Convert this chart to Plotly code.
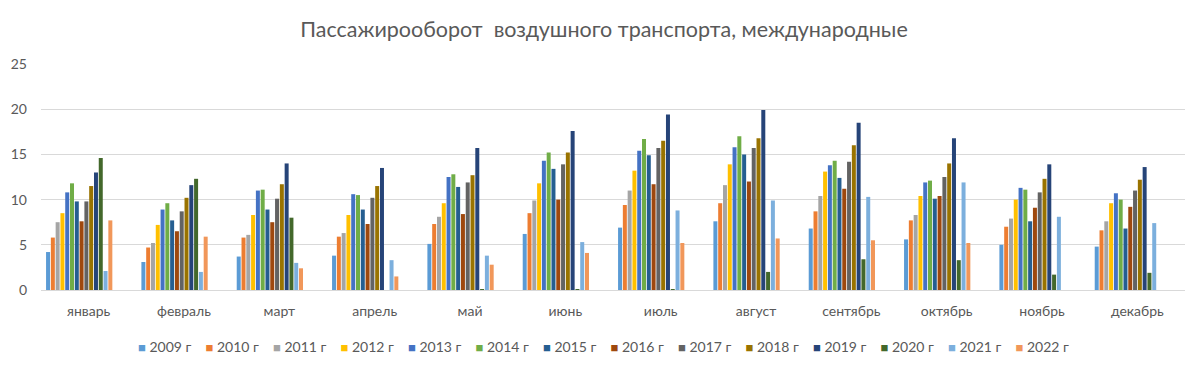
import plotly.graph_objects as go

months = ["январь", "февраль", "март", "апрель", "май", "июнь", "июль",
          "август", "сентябрь", "октябрь", "ноябрь", "декабрь"]

years = ["2009 г", "2010 г", "2011 г", "2012 г", "2013 г", "2014 г", "2015 г",
         "2016 г", "2017 г", "2018 г", "2019 г", "2020 г", "2021 г", "2022 г"]

y2009 = [4.2, 3.1, 3.7, 3.8, 5.1, 6.2, 6.9, 7.6, 6.8, 5.6, 5.0, 4.8]
y2010 = [5.8, 4.7, 5.8, 5.9, 7.3, 8.5, 9.4, 9.6, 8.7, 7.7, 7.0, 6.6]
y2011 = [7.5, 5.2, 6.1, 6.3, 8.1, 9.9, 11.0, 11.6, 10.4, 8.3, 7.9, 7.6]
y2012 = [8.5, 7.2, 8.3, 8.3, 9.6, 11.8, 13.2, 13.9, 13.1, 10.4, 10.0, 9.6]
y2013 = [10.8, 8.9, 11.0, 10.6, 12.5, 14.3, 15.4, 15.8, 13.8, 11.9, 11.3, 10.7]
y2014 = [11.8, 9.6, 11.1, 10.5, 12.8, 15.2, 16.7, 17.0, 14.3, 12.1, 11.1, 10.0]
y2015 = [9.8, 7.7, 8.9, 8.9, 11.4, 13.4, 14.9, 15.0, 12.4, 10.1, 7.6, 6.8]
y2016 = [7.6, 6.5, 7.5, 7.3, 8.4, 10.0, 11.7, 12.0, 11.2, 10.4, 9.1, 9.2]
y2017 = [9.8, 8.7, 10.1, 10.2, 11.9, 13.9, 15.7, 15.7, 14.2, 12.5, 10.8, 11.0]
y2018 = [11.5, 10.2, 11.7, 11.5, 12.7, 15.2, 16.5, 16.8, 16.0, 14.0, 12.3, 12.2]
y2019 = [13.0, 11.6, 14.0, 13.5, 15.7, 17.6, 19.4, 19.9, 18.5, 16.8, 13.9, 13.6]
y2020 = [14.6, 12.3, 8.0, 0.0, 0.1, 0.1, 0.1, 2.0, 3.4, 3.3, 1.7, 1.9]
y2021 = [2.1, 2.0, 3.0, 3.3, 3.8, 5.3, 8.8, 9.9, 10.3, 11.9, 8.1, 7.4]
y2022 = [7.7, 5.9, 2.4, 1.5, 2.8, 4.1, 5.2, 5.7, 5.5, 5.2, None, None]

series = [y2009, y2010, y2011, y2012, y2013, y2014, y2015,
          y2016, y2017, y2018, y2019, y2020, y2021, y2022]

colors = ["#5B9BD5", "#ED7D31", "#A5A5A5", "#FFC000", "#4472C4", "#70AD47",
          "#255E91", "#9E480E", "#636363", "#997300", "#264478", "#43682B",
          "#7CAFDD", "#F1975A"]

y_ticks = [0, 5, 10, 15, 20, 25]

FONT = "Lato"
TXT = "#595959"

# bar placement within each category (category width = 1 unit);
# the group sits left of the category centre, as in the source chart
CAT_PX = 95.3
SLOT = 4.79 / CAT_PX
BAR_W = 4.0 / CAT_PX
START = -42.6 / CAT_PX

fig = go.Figure()
for i, (name, vals, col) in enumerate(zip(years, series, colors)):
    fig.add_trace(go.Bar(name=name, x=months, y=vals, showlegend=False,
                         offset=START + i * SLOT, width=BAR_W,
                         marker=dict(color=col, line=dict(width=0))))

# legend entries: small coloured square set tight against the label
for name, col in zip(years, colors):
    fig.add_trace(go.Scatter(
        x=[None], y=[None], mode="markers",
        marker=dict(size=1, color="rgba(0,0,0,0)"),
        name=f"<span style='color:{col};font-size:13px'>■</span> {name}",
        showlegend=True))
# trailing blank entry so the last label is not clipped
fig.add_trace(go.Scatter(x=[None], y=[None], mode="markers",
                         marker=dict(size=1, color="rgba(0,0,0,0)"),
                         name="\u00a0", showlegend=True))

fig.update_layout(
    width=1192, height=363,
    paper_bgcolor="white", plot_bgcolor="white",
    barmode="group",
    margin=dict(l=33, r=15, t=56, b=81, autoexpand=False),
    title=dict(text="Пассажирооборот  воздушного транспорта, международные",
               x=0.5, xanchor="center", y=0.94, yanchor="middle",
               font=dict(family=FONT, size=21.5, color=TXT)),
    font=dict(family=FONT, size=14, color=TXT),
    showlegend=True,
    legend=dict(orientation="h", x=0.0498, xanchor="left",
                y=-0.25, yanchor="middle",
                font=dict(family=FONT, size=14, color=TXT),
                itemwidth=30, entrywidth=22.5, tracegroupgap=0,
                borderwidth=0, bgcolor="rgba(0,0,0,0)"),
    xaxis=dict(showgrid=False, showline=True, linecolor="#D9D9D9", linewidth=1,
               ticks="", automargin=False, ticklabelstandoff=8,
               tickfont=dict(family=FONT, size=14, color=TXT)),
    yaxis=dict(range=[0, 25], tickvals=y_ticks, showgrid=True,
               gridcolor="#D9D9D9", gridwidth=1, zeroline=False, showline=False,
               ticks="", ticklabelstandoff=13, automargin=False,
               tickfont=dict(family=FONT, size=14, color=TXT)),
)

fig.write_html("out.html")
